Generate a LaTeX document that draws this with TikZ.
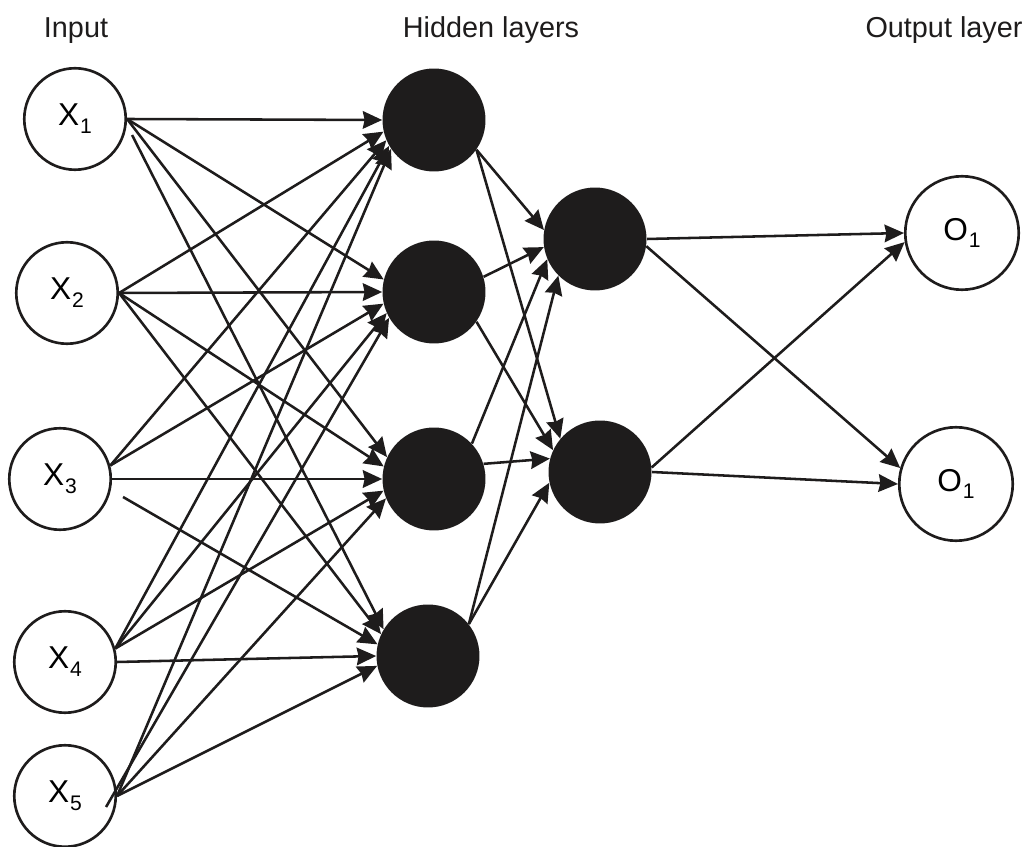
\documentclass[tikz,border=0pt]{standalone}
\usepackage{fontspec}
\setmainfont{Liberation Sans}
\usepackage{tikz}
\usetikzlibrary{arrows.meta}
\definecolor{ink}{RGB}{30,28,28}
\newcommand{\nlabel}[2]{#1\kern0.5pt\raisebox{-4.5pt}{\fontsize{12}{14}\selectfont #2}}
\tikzset{
  warrow/.style={-{Stealth[length=11pt,width=10pt,inset=1pt]}, line width=1.45pt, draw=ink},
  innode/.style={circle, draw=ink, line width=1.5pt, fill=white, minimum size=2.03cm, inner sep=0pt, font=\fontsize{18}{21}\selectfont},
  outnode/.style={circle, draw=ink, line width=1.5pt, fill=white, minimum size=2.27cm, inner sep=0pt, font=\fontsize{18}{21}\selectfont},
  hidnode/.style={circle, fill=ink, minimum size=2.06cm, inner sep=0pt},
  title/.style={anchor=base, inner sep=0pt, font=\fontsize{16.4}{20}\selectfont, text=ink}
}
\begin{document}
\begin{tikzpicture}[x=0.02cm, y=-0.02cm]
    \useasboundingbox (0,0) rectangle (1035,847);
    % layer titles
    \node[title] (tin) at (76,38) {Input};
    \node[title] (thid) at (491,38) {Hidden layers};
    \node[title] (tout) at (944,38) {Output layer};
    % input layer
    \node[innode] (x1) at (75,119) {\nlabel{X}{1}};
    \node[innode] (x2) at (67,293) {\nlabel{X}{2}};
    \node[innode] (x3) at (60,479) {\nlabel{X}{3}};
    \node[innode] (x4) at (65,662) {\nlabel{X}{4}};
    \node[innode] (x5) at (65,796) {\nlabel{X}{5}};
    % hidden layers
    \node[hidnode] (a1) at (434,120) {};
    \node[hidnode] (a2) at (434,292) {};
    \node[hidnode] (a3) at (434,479) {};
    \node[hidnode] (a4) at (428,656) {};
    \node[hidnode] (b1) at (595,239) {};
    \node[hidnode] (b2) at (600,472) {};
    % output layer
    \node[outnode] (o1) at (962,233) {\nlabel{O}{1}};
    \node[outnode] (o2) at (956,484) {\nlabel{O}{1}};
    % input -> first hidden layer
    \draw[warrow] (x1.east) -- (a1.180);
    \draw[warrow] (x1.east) -- (a2.166);
    \draw[warrow] (x1.east) -- (a3.155);
    \draw[warrow] ([shift={(5,16)}]x1.east) -- (a4.149);
    \draw[warrow] (x2.east) -- (a1.193);
    \draw[warrow] (x2.east) -- (a2.180);
    \draw[warrow] (x2.east) -- (a3.166);
    \draw[warrow] (x2.east) -- (a4.155);
    \draw[warrow] (x3.15) -- (a1.203);
    \draw[warrow] (x3.15) -- (a2.193);
    \draw[warrow] (x3.east) -- (a3.180);
    \draw[warrow] ([shift={(11,18)}]x3.east) -- (a4.167);
    \draw[warrow] (x4.15) -- (a1.210);
    \draw[warrow] (x4.15) -- (a2.204);
    \draw[warrow] (x4.15) -- (a3.193);
    \draw[warrow] (x4.east) -- (a4.180);
    \draw[warrow] (x5.east) -- (a1.214);
    \draw[warrow] ([shift={(-11,11)}]x5.east) -- (a2.210);
    \draw[warrow] (x5.east) -- (a3.202);
    \draw[warrow] (x5.east) -- (a4.191);
    % first -> second hidden layer
    \draw[warrow] (a1.-35) -- (b1.170);
    \draw[warrow] (a1.-35) -- (b2.140);
    \draw[warrow] (a2.17) -- (b1.189);
    \draw[warrow] (a2.-35) -- (b2.155);
    \draw[warrow] (a3.43) -- (b1.203);
    \draw[warrow] (a3.17) -- (b2.165);
    \draw[warrow] (a4.38) -- (b1.225);
    \draw[warrow] (a4.38) -- (b2.192);
    % second hidden -> output
    \draw[warrow] (b1.east) -- (o1.180);
    \draw[warrow] (b1.-8) -- (o2.164);
    \draw[warrow] (b2.5) -- (o1.189);
    \draw[warrow] (b2.east) -- (o2.180);
  \end{tikzpicture}
\end{document}
